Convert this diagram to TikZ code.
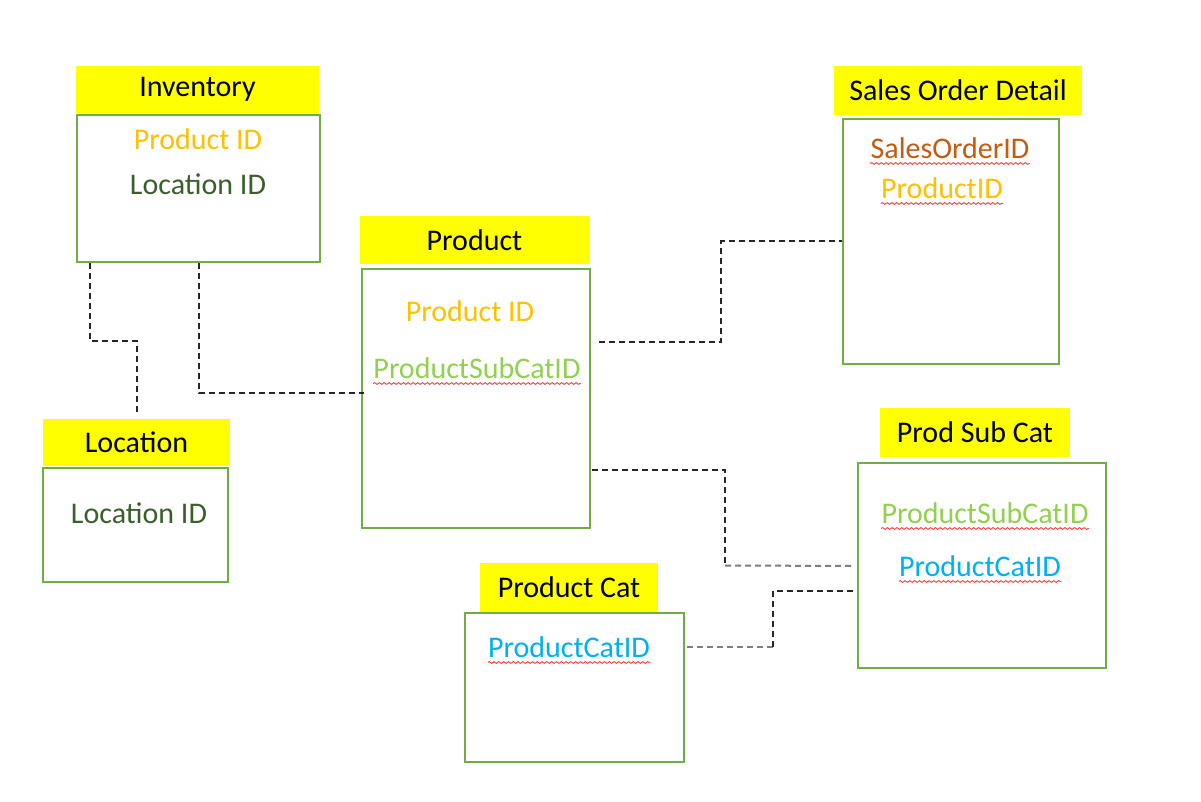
\documentclass[tikz,border=0pt]{standalone}
\usepackage{fontspec}
\setmainfont{Carlito}
\usetikzlibrary{calc,decorations.pathmorphing}
\definecolor{boxgreen}{HTML}{70AD47}
\definecolor{hdryellow}{HTML}{FFFF00}
\definecolor{keyorange}{HTML}{FFC000}
\definecolor{locgreen}{HTML}{3B5E2B}
\definecolor{sogold}{HTML}{C55A11}
\definecolor{subgreen}{HTML}{92D050}
\definecolor{catblue}{HTML}{00B0F0}
\definecolor{connbg}{HTML}{7F7F7F}
\tikzset{
  tbl/.style={draw=boxgreen, line width=1pt, fill=white, inner sep=0pt},
  hdr/.style={fill=hdryellow, inner sep=0pt, font=\fontsize{15}{18}\selectfont, text=black},
  fld/.style={inner sep=0pt, font=\fontsize{15}{18}\selectfont},
  conn/.style={draw=black!85, line width=1pt, dash pattern=on 3pt off 2pt},
  conngray/.style={draw=connbg, line width=1pt, dash pattern=on 3pt off 2pt},
  squig/.style={draw=red!75, line width=0.45pt, decorate, decoration={snake, amplitude=0.45pt, segment length=2.4pt}}
}
\newcommand{\squiggle}[1]{\draw[squig] ([yshift=-2.6pt]#1.base west) -- ([yshift=-2.6pt]#1.base east);}
\begin{document}
\begin{tikzpicture}[x=0.5pt, y=-0.5pt]
\useasboundingbox (0,0) rectangle (1201,802);
\fill[white] (0,0) rectangle (1201,802);

% Inventory
\node[hdr, minimum width=121.5pt, minimum height=23.5pt] (invh) at (197.5,89.5) {Inventory};
\node[tbl, minimum width=121.5pt, minimum height=73.5pt] (inv) at (198.5,188.5) {};
\node[fld, text=keyorange] (inv1) at (198,139) {Product ID};
\node[fld, text=locgreen] (inv2) at (198,184) {Location ID};

% Product
\node[hdr, minimum width=114.5pt, minimum height=24pt] (prodh) at (474.5,240) {Product};
\node[tbl, minimum width=114pt, minimum height=129.5pt] (prod) at (476,398.5) {};
\node[fld, text=keyorange] (prod1) at (470,311) {Product ID};
\node[fld, text=subgreen] (prod2) at (477,368) {ProductSubCatID};
\squiggle{prod2}

% Sales Order Detail
\node[hdr, minimum width=124pt, minimum height=24.5pt] (sodh) at (958,90.5) {Sales Order Detail};
\node[tbl, minimum width=108pt, minimum height=122.5pt] (sod) at (951,241.5) {};
\node[fld, text=sogold] (sod1) at (950,148) {SalesOrderID};
\squiggle{sod1}
\node[fld, text=keyorange] (sod2) at (942,188) {ProductID};
\squiggle{sod2}

% Location
\node[hdr, minimum width=93.5pt, minimum height=23.5pt] (loch) at (136.5,442.5) {Location};
\node[tbl, minimum width=92.5pt, minimum height=57pt] (loc) at (135.5,525) {};
\node[fld, text=locgreen] (loc1) at (139,513) {Location ID};

% Product Cat
\node[hdr, minimum width=89pt, minimum height=24.5pt] (pch) at (569,587.5) {Product Cat};
\node[tbl, minimum width=109.5pt, minimum height=74.5pt] (pc) at (574.5,687.5) {};
\node[fld, text=catblue] (pc1) at (569,647) {ProductCatID};
\squiggle{pc1}

% Prod Sub Cat
\node[hdr, minimum width=95pt, minimum height=24.5pt] (psch) at (975,432.5) {Prod Sub Cat};
\node[tbl, minimum width=124pt, minimum height=102.5pt] (psc) at (982,565.5) {};
\node[fld, text=subgreen] (psc1) at (985,513) {ProductSubCatID};
\squiggle{psc1}
\node[fld, text=catblue] (psc2) at (980,566) {ProductCatID};
\squiggle{psc2}

% Connectors
\draw[conn] ($(inv.south west)+(14,0)$) -- ++(0,78) -| ($(loch.north)+(0,-4)$);
\draw[conn] ($(inv.south)+(0.5,0)$) |- ($(prod.west)+(3,-5.5)$);
\draw[conn] ($(prod.east)+(8,-56.5)$) -- ++(122,0) |- (sod.west);
\draw[conn] ($(prod.east)+(1,72)$) -- ++(133,0) -- ++(0,95) coordinate (c4);
\draw[conngray] (c4) -- ($(psc.west)+(-4,0.5)$);
\draw[conngray] ($(pc.east)+(2,-40.5)$) -- ++(86,0) coordinate (c5);
\draw[conn] (c5) |- ($(psc.west)+(-3,25.5)$);
\end{tikzpicture}
\end{document}
